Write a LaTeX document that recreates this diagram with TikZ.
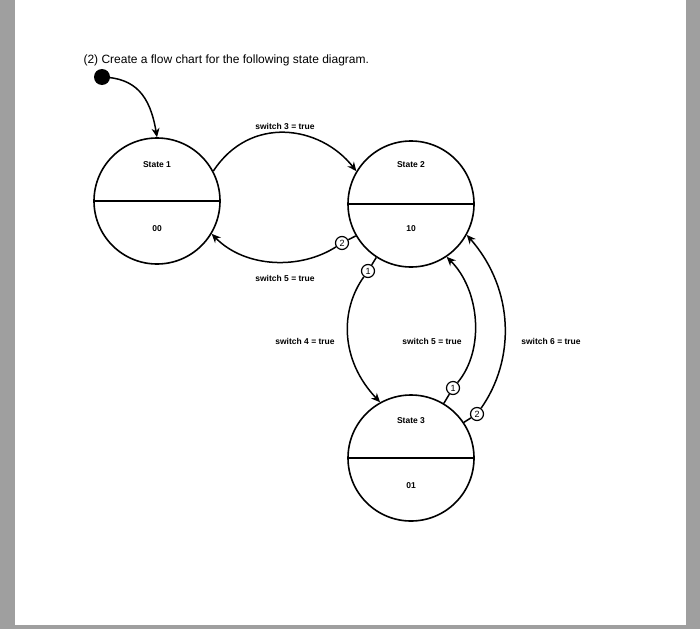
\documentclass[tikz,border=0pt]{standalone}
\usepackage{fontspec}
\setmainfont{Liberation Sans}
\usetikzlibrary{arrows.meta}
\begin{document}
\begin{tikzpicture}[x=1pt,y=-1pt,
  st/.style={circle,draw,line width=1.6pt,minimum size=126pt,inner sep=0pt},
  mk/.style={circle,draw,line width=1.2pt,minimum size=13pt,inner sep=0pt,font=\fontsize{9}{9}\selectfont,fill=white},
  lb/.style={font=\bfseries\fontsize{8.5}{10}\selectfont},
  ed/.style={line width=1.5pt,-{Stealth[length=9pt,width=8pt]}},
  ln/.style={line width=1.5pt}]
\fill[gray!75] (0,0) rectangle (700,629);
\fill[white] (15,0) rectangle (686,625);
\useasboundingbox (0,0) rectangle (700,629);
\node[anchor=west,font=\fontsize{12}{14}\selectfont] (title) at (80,60) {(2) Create a flow chart for the following state diagram.};
\node[st] (s1) at (157,201) {};
\node[st] (s2) at (411,204) {};
\node[st] (s3) at (411,458) {};
\foreach \s in {s1,s2,s3} \draw[line width=1.6pt] (\s.west) -- (\s.east);
\node[lb] (t1) at (157,165) {State 1};
\node[lb] (v1) at (157,229) {00};
\node[lb] (t2) at (411,165) {State 2};
\node[lb] (v2) at (411,229) {10};
\node[lb] (t3) at (411,421) {State 3};
\node[lb] (v3) at (411,486) {01};
\fill (102,77) circle (8pt) coordinate (init);
\draw[ed] (init) .. controls (135,78) and (150,95) .. (s1.90);
\draw[ed] (s1.28) .. controls (250,115) and (320,125) .. (s2.149);
\node[lb] (l3) at (285,126) {switch 3 = true};
\node[mk] (m2a) at (342,243) {2};
\draw[ln] (s2.-150) -- (m2a);
\draw[ed] (m2a) .. controls (300,270) and (245,268) .. (s1.-31);
\node[lb] (l5a) at (285,278) {switch 5 = true};
\node[mk] (m1a) at (368,271) {1};
\draw[ln] (s2.-123) -- (m1a);
\draw[ed] (m1a) .. controls (340,310) and (340,360) .. (s3.119);
\node[lb] (l4) at (305,341) {switch 4 = true};
\node[mk] (m1b) at (453,388) {1};
\draw[ln] (s3.59) -- (m1b);
\draw[ed] (m1b) .. controls (485,350) and (480,290) .. (s2.-56);
\node[lb] (l5b) at (432,341) {switch 5 = true};
\node[mk] (m2b) at (477,414) {2};
\draw[ln] (s3.34) -- (m2b);
\draw[ed] (m2b) .. controls (515,360) and (515,290) .. (s2.-29);
\node[lb] (l6) at (551,341) {switch 6 = true};
\end{tikzpicture}
\end{document}
